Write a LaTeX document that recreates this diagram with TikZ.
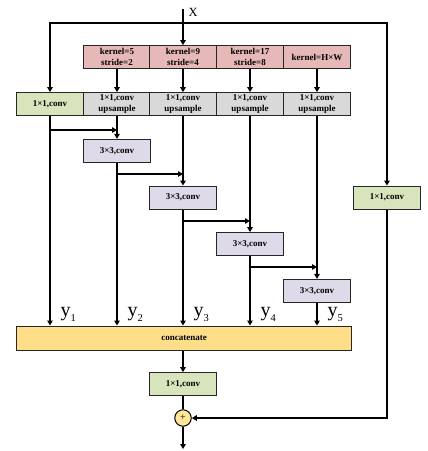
\documentclass[tikz,border=0pt]{standalone}
\usepackage{fontspec}
\setmainfont{Liberation Serif}
\usetikzlibrary{arrows.meta}
\definecolor{pinkc}{HTML}{E6B8B7}
\definecolor{greenc}{HTML}{D8E4BC}
\definecolor{greyc}{HTML}{D9D9D9}
\definecolor{lavc}{HTML}{DEDAEA}
\definecolor{yelc}{HTML}{FFDE8A}
\definecolor{circc}{HTML}{FFE699}
\newcommand{\ylab}[1]{{\fontsize{20}{20}\selectfont y}\raisebox{-4.5pt}{\fontsize{10.5}{10.5}\selectfont #1}}
\begin{document}
\begin{tikzpicture}[x=1pt,y=-1pt,
  cell/.style={draw=black!85,line width=1pt,minimum width=66.7pt,minimum height=23.3pt,inner sep=0pt,align=center,font=\fontsize{9}{11}\selectfont\bfseries},
  pinkbox/.style={cell,fill=pinkc},
  greenbox/.style={cell,fill=greenc},
  greybox/.style={cell,fill=greyc},
  lavbox/.style={cell,fill=lavc},
  arr/.style={line width=1.5pt,-{Triangle[length=5pt,width=5.5pt]}},
  ln/.style={line width=1.5pt},
  lab/.style={anchor=base west,inner sep=0pt,xshift=10.5pt}]
\useasboundingbox (0,0) rectangle (428,451);
% input
\coordinate (xin) at (183,9);
\coordinate (j) at (183,23);
\node[anchor=base west,inner sep=0pt,font=\fontsize{12.5}{12.5}\selectfont] (xl) at (188.3,16.7) {X};
% pink row
\node[pinkbox] (p1) at (117,57.3) {kernel=5\\stride=2};
\node[pinkbox] (p2) at (183,57.3) {kernel=9\\stride=4};
\node[pinkbox] (p3) at (250,57.3) {kernel=17\\stride=8};
\node[pinkbox] (p4) at (317,57.3) {kernel=H×W};
% second row
\node[greenbox] (g0) at (50,104.3) {1×1,conv};
\node[greybox] (c1) at (117,104.3) {1×1,conv\\upsample};
\node[greybox] (c2) at (183,104.3) {1×1,conv\\upsample};
\node[greybox] (c3) at (250,104.3) {1×1,conv\\upsample};
\node[greybox] (c4) at (317,104.3) {1×1,conv\\upsample};
% 3x3 convs
\node[lavbox] (b1) at (117,151) {3×3,conv};
\node[lavbox] (b2) at (183,197.7) {3×3,conv};
\node[lavbox] (b3) at (250,244.3) {3×3,conv};
\node[lavbox] (b4) at (317,291) {3×3,conv};
% right branch
\node[greenbox] (r) at (387,197.7) {1×1,conv};
% concat
\node[cell,fill=yelc,minimum width=335pt,minimum height=24pt] (cc) at (184.2,338) {concatenate};
\node[greenbox] (f) at (183,384.3) {1×1,conv};
\node[circle,draw=black,line width=1pt,fill=circc,minimum size=16.5pt,inner sep=0pt,font=\fontsize{10}{10}\selectfont] (s) at (183,418) {+};
\coordinate (out) at (183,449);
% junction coordinates
\coordinate (h1) at (117,130);
\coordinate (h2) at (183,174);
\coordinate (h3) at (250,221);
\coordinate (h4) at (317,267);
\coordinate (ylev) at (0,316.7);
% connectors
\draw[arr] (xin) -- (p2.north);
\draw[arr] (j) -| (g0.north);
\draw[arr] (j) -| (r.north);
\draw[arr] (p1.south) -- (c1.north);
\draw[arr] (p2.south) -- (c2.north);
\draw[arr] (p3.south) -- (c3.north);
\draw[arr] (p4.south) -- (c4.north);
\draw[arr] (g0.south) -- (g0.south |- cc.north);
\draw[arr] (g0.south |- h1) -- (h1);
\draw[arr] (c1.south) -- (c1.south |- b1.north);
\draw[arr] (b1.south) -- (b1.south |- cc.north);
\draw[arr] (b1.south |- h2) -- (h2);
\draw[arr] (c2.south) -- (c2.south |- b2.north);
\draw[arr] (b2.south) -- (b2.south |- cc.north);
\draw[arr] (b2.south |- h3) -- (h3);
\draw[arr] (c3.south) -- (c3.south |- b3.north);
\draw[arr] (b3.south) -- (b3.south |- cc.north);
\draw[arr] (b3.south |- h4) -- (h4);
\draw[arr] (c4.south) -- (c4.south |- b4.north);
\draw[arr] (b4.south) -- (b4.south |- cc.north);
\draw[arr] (f.north |- cc.south) -- (f.north);
\draw[ln] (f.south) -- (s.north);
\draw[arr] (r.south) |- (s.east);
\draw[arr] (s.south) -- (out);
% labels
\node[lab] (y1) at (g0.south |- ylev) {\ylab{1}};
\node[lab] (y2) at (b1.south |- ylev) {\ylab{2}};
\node[lab] (y3) at (b2.south |- ylev) {\ylab{3}};
\node[lab] (y4) at (b3.south |- ylev) {\ylab{4}};
\node[lab] (y5) at (b4.south |- ylev) {\ylab{5}};
\end{tikzpicture}
\end{document}
